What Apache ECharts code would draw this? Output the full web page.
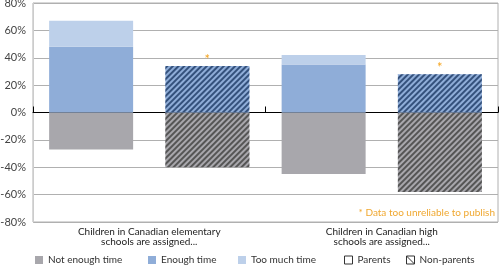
<!DOCTYPE html>
<html><head><meta charset="utf-8">
<script src="https://cdn.jsdelivr.net/npm/echarts@6/dist/echarts.min.js"></script>
<style>html,body{margin:0;padding:0;background:#fff}#c{width:500px;height:268px}</style>
</head><body><div id="c"></div>
<script>
const groupLabels = ['Children in Canadian elementary\nschools are assigned...', 'Children in Canadian high\nschools are assigned...'];
const barCategories = ['Elementary - Parents', 'Elementary - Non-parents', 'High - Parents', 'High - Non-parents'];
const nonParent = [false, true, false, true];
const notEnoughTime = [-27, -40, -45, -58];
const enoughTime = [48, 34, 35, 28];
const tooMuchTime = [19, null, 7, null];
const unreliableTooMuch = [false, true, false, true];
const yMin = -80, yMax = 80, yStep = 20;
const footnote = '* Data too unreliable to publish';

const FONT = 'Lato';
const GRAY = '#a8a7ac', BLUE = '#8fadd8', LIGHT = '#bdd0ea';

function stripes(color) {
  return { symbol: 'rect', symbolSize: 1, dashArrayX: [1, 0], dashArrayY: [1.1, 2], rotation: -Math.PI / 4, color: color };
}
function build(vals, stripeColor, withStar) {
  return vals.map((v, i) => {
    if (!nonParent[i]) return v;
    const it = { value: v, itemStyle: { decal: stripes(stripeColor) } };
    if (withStar && unreliableTooMuch[i]) {
      it.label = { show: true, position: 'top', formatter: '*', color: '#f5a623', fontSize: 13, fontFamily: FONT, distance: 0 };
    }
    return it;
  });
}

const legendSpec = [
  { name: 'Not enough time', left: 35, itemStyle: { color: GRAY } },
  { name: 'Enough time', left: 148, itemStyle: { color: BLUE } },
  { name: 'Too much time', left: 238, itemStyle: { color: LIGHT } },
  { name: 'Parents', left: 344, icon: 'rect', itemStyle: { color: '#fff', borderColor: '#333', borderWidth: 1 } },
  { name: 'Non-parents', left: 406, icon: 'path://M0,0L10,0L10,10L0,10ZM0,0L10,10', itemStyle: { color: '#fff', borderColor: '#333', borderWidth: 1 } }
];

const chart = echarts.init(document.getElementById('c'), null, { renderer: 'canvas' });
chart.setOption({
  animation: false,
  grid: { left: 33, right: 2, top: 3, bottom: 46, show: true, borderColor: '#b0b0b0', borderWidth: 1, containLabel: false, outerBoundsMode: 'none' },
  legend: legendSpec.map(l => ({
    left: l.left, top: 255, padding: 0, itemWidth: 8, itemHeight: 8, selectedMode: false,
    textStyle: { fontFamily: FONT, fontSize: 10, color: '#333' },
    data: [{ name: l.name, icon: l.icon || 'rect', itemStyle: l.itemStyle }]
  })),
  xAxis: [
    {
      type: 'category', data: barCategories, position: 'bottom',
      axisLine: { onZero: true, lineStyle: { color: '#000', width: 1 } },
      axisTick: { show: true, inside: true, length: 6, lineStyle: { color: '#000' } },
      axisLabel: { show: false }, splitLine: { show: false }
    },
    {
      type: 'category', data: groupLabels, position: 'bottom',
      axisLine: { show: false, onZero: false }, axisTick: { show: false },
      axisLabel: { fontFamily: FONT, fontSize: 10, color: '#222', lineHeight: 10, margin: 5 }
    }
  ],
  yAxis: {
    type: 'value', min: yMin, max: yMax, interval: yStep,
    axisLine: { show: true, lineStyle: { color: '#ccc' } }, axisTick: { show: false },
    axisLabel: { formatter: v => v + '%', fontFamily: FONT, fontSize: 11, color: '#444', margin: 7 },
    splitLine: { lineStyle: { color: '#b0b0b0', width: 1 } }
  },
  graphic: [{
    type: 'text', right: 5, top: 208,
    style: { text: footnote, fill: '#f0a830', font: '10px ' + FONT }
  }],
  series: [
    { name: 'Not enough time', type: 'bar', stack: 's', barWidth: 84, data: build(notEnoughTime, '#555'), itemStyle: { color: GRAY } },
    { name: 'Enough time', type: 'bar', stack: 's', barWidth: 84, data: build(enoughTime, '#34517c', true), itemStyle: { color: BLUE } },
    { name: 'Too much time', type: 'bar', stack: 's', barWidth: 84, data: build(tooMuchTime, '#34517c'), itemStyle: { color: LIGHT } },
    { name: 'Parents', type: 'bar', stack: 's', barWidth: 84, data: [] },
    { name: 'Non-parents', type: 'bar', stack: 's', barWidth: 84, data: [] }
  ]
});
</script></body></html>
